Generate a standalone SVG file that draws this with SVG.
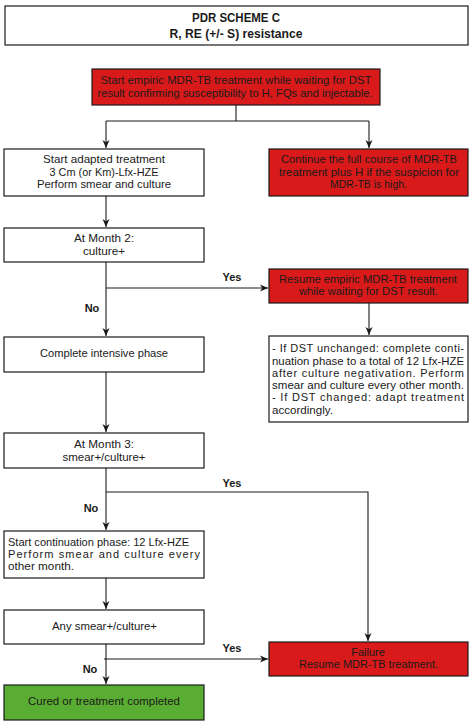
<svg xmlns="http://www.w3.org/2000/svg" width="474" height="727" viewBox="0 0 474 727">
<defs>
<marker id="arr" markerWidth="9" markerHeight="8" refX="8" refY="4" orient="auto" markerUnits="userSpaceOnUse">
<path d="M0,0.5 L8,4 L0,7.5 L2.2,4 Z" fill="#1a1a1a"/>
</marker>
<style>
.box{fill:#fff;stroke:#1a1a1a;stroke-width:1.2}
.red{fill:#d91a1a;stroke:#1a1a1a;stroke-width:1.2}
.green{fill:#5aad33;stroke:#1a1a1a;stroke-width:1.2}
text{font-family:"Liberation Sans",Arial,sans-serif;font-size:11px;fill:#1a1a1a}
.c{text-anchor:middle}
.t{font-weight:bold;font-size:13px}
.lbl{font-weight:bold;font-size:11px}
.ln{fill:none;stroke:#1a1a1a;stroke-width:1.1}
</style>
</defs>
<rect width="474" height="727" fill="#fff"/>
<g id="connectors">
<path class="ln" d="M236,105 V121 M106,121 H369"/>
<path class="ln" d="M106,121 V148" marker-end="url(#arr)"/>
<path class="ln" d="M369,121 V148" marker-end="url(#arr)"/>
<path class="ln" d="M106,196 V227" marker-end="url(#arr)"/>
<path class="ln" d="M106,262 V336" marker-end="url(#arr)"/>
<path class="ln" d="M106,288 H268" marker-end="url(#arr)"/>
<path class="ln" d="M369,303 V335" marker-end="url(#arr)"/>
<path class="ln" d="M106,372 V432" marker-end="url(#arr)"/>
<path class="ln" d="M106,468 V530" marker-end="url(#arr)"/>
<path class="ln" d="M106,492 H368 V641" marker-end="url(#arr)"/>
<path class="ln" d="M106,578 V609" marker-end="url(#arr)"/>
<path class="ln" d="M106,644 V684" marker-end="url(#arr)"/>
<path class="ln" d="M104,659 H268" marker-end="url(#arr)"/>
<text class="lbl" x="232" y="281" text-anchor="middle">Yes</text>
<text class="lbl" x="92" y="312" text-anchor="middle">No</text>
<text class="lbl" x="232" y="487" text-anchor="middle">Yes</text>
<text class="lbl" x="91" y="512" text-anchor="middle">No</text>
<text class="lbl" x="232" y="652" text-anchor="middle">Yes</text>
<text class="lbl" x="90" y="673" text-anchor="middle">No</text>
</g>
<g id="title">
<rect class="box" x="5" y="6" width="463" height="39"/>
<text class="c t" x="236" y="21.5" textLength="88" lengthAdjust="spacingAndGlyphs">PDR SCHEME C</text>
<text class="c t" x="236" y="37.5" textLength="133" lengthAdjust="spacingAndGlyphs">R, RE (+/- S) resistance</text>
</g>
<g id="empiric">
<rect class="red" x="92" y="69" width="288" height="36"/>
<text class="c" x="236" y="84" textLength="271" lengthAdjust="spacingAndGlyphs">Start empiric MDR-TB treatment while waiting for DST</text>
<text class="c" x="235" y="96.5" textLength="275" lengthAdjust="spacingAndGlyphs">result confirming susceptibility to H, FQs and injectable.</text>
</g>
<g id="adapted">
<rect class="box" x="4" y="149" width="200" height="47"/>
<text class="c" x="104" y="163" textLength="122" lengthAdjust="spacingAndGlyphs">Start adapted treatment</text>
<text class="c" x="104" y="175.5" textLength="109" lengthAdjust="spacingAndGlyphs">3 Cm (or Km)-Lfx-HZE</text>
<text class="c" x="104" y="188" textLength="134" lengthAdjust="spacingAndGlyphs">Perform smear and culture</text>
</g>
<g id="continue">
<rect class="red" x="269" y="149" width="199" height="47"/>
<text class="c" x="369" y="163" textLength="176" lengthAdjust="spacingAndGlyphs">Continue the full course of MDR-TB</text>
<text class="c" x="369" y="175.5" textLength="180" lengthAdjust="spacingAndGlyphs">treatment plus H if the suspicion for</text>
<text class="c" x="368.5" y="188" textLength="77" lengthAdjust="spacingAndGlyphs">MDR-TB is high.</text>
</g>
<g id="month2">
<rect class="box" x="4" y="228" width="200" height="34"/>
<text class="c" x="104" y="242" textLength="60" lengthAdjust="spacingAndGlyphs">At Month 2:</text>
<text class="c" x="104" y="254.5" textLength="42" lengthAdjust="spacingAndGlyphs">culture+</text>
</g>
<g id="resume">
<rect class="red" x="269" y="269" width="199" height="34"/>
<text class="c" x="368" y="283" textLength="178" lengthAdjust="spacingAndGlyphs">Resume empiric MDR-TB treatment</text>
<text class="c" x="368.5" y="295" textLength="139" lengthAdjust="spacingAndGlyphs">while waiting for DST result.</text>
</g>
<g id="dst">
<rect class="box" x="269" y="336" width="199" height="86"/>
<text x="272" y="352" textLength="192" lengthAdjust="spacing">- If DST unchanged: complete conti-</text>
<text x="272" y="364.5" textLength="192" lengthAdjust="spacingAndGlyphs">nuation phase to a total of 12 Lfx-HZE</text>
<text x="272" y="376.5" textLength="192" lengthAdjust="spacing">after culture negativation. Perform</text>
<text x="272" y="388.5" textLength="192" lengthAdjust="spacingAndGlyphs">smear and culture every other month.</text>
<text x="272" y="401" textLength="192" lengthAdjust="spacing">- If DST changed: adapt treatment</text>
<text x="272" y="413.5" textLength="61" lengthAdjust="spacingAndGlyphs">accordingly.</text>
</g>
<g id="intensive">
<rect class="box" x="4" y="337" width="200" height="35"/>
<text class="c" x="104" y="357" textLength="128" lengthAdjust="spacingAndGlyphs">Complete intensive phase</text>
</g>
<g id="month3">
<rect class="box" x="4" y="433" width="200" height="35"/>
<text class="c" x="104" y="448" textLength="60" lengthAdjust="spacingAndGlyphs">At Month 3:</text>
<text class="c" x="104" y="460.5" textLength="83" lengthAdjust="spacingAndGlyphs">smear+/culture+</text>
</g>
<g id="continuation">
<rect class="box" x="4" y="531" width="200" height="47"/>
<text x="8" y="546" textLength="181" lengthAdjust="spacingAndGlyphs">Start continuation phase: 12 Lfx-HZE</text>
<text x="8" y="558" textLength="192" lengthAdjust="spacing">Perform smear and culture every</text>
<text x="8" y="570" textLength="66" lengthAdjust="spacingAndGlyphs">other month.</text>
</g>
<g id="any">
<rect class="box" x="4" y="610" width="200" height="34"/>
<text class="c" x="104.5" y="630" textLength="105" lengthAdjust="spacingAndGlyphs">Any smear+/culture+</text>
</g>
<g id="failure">
<rect class="red" x="269" y="642" width="199" height="34"/>
<text class="c" x="368" y="655.5">Failure</text>
<text class="c" x="368.5" y="668" textLength="139" lengthAdjust="spacingAndGlyphs">Resume MDR-TB treatment.</text>
</g>
<g id="cured">
<rect class="green" x="4" y="685" width="200" height="35"/>
<text class="c" x="104" y="705" textLength="152" lengthAdjust="spacingAndGlyphs">Cured or treatment completed</text>
</g>
</svg>
